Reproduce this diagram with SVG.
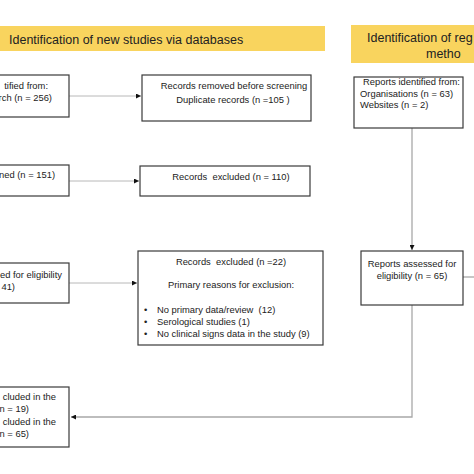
<svg xmlns="http://www.w3.org/2000/svg" width="474" height="474" viewBox="0 0 474 474">
<defs>
<style>
.hdr{fill:#F9D45E}
.ht{font-family:"Liberation Sans",Arial,sans-serif;font-size:12.5px;fill:#222}
.box{fill:#fff;stroke:#3a3a3a;stroke-width:1.2}
.t{font-family:"Liberation Sans",Arial,sans-serif;font-size:9.4px;fill:#222;white-space:pre}
.c{text-anchor:middle}
.e{text-anchor:end}
.ln{fill:none;stroke:#a8a8a8;stroke-width:1.3}
.thin{fill:none;stroke:#b0b0b0;stroke-width:0.9}
</style>
<marker id="ah" viewBox="0 0 6 6" refX="6" refY="3" markerWidth="5" markerHeight="5" orient="auto" markerUnits="userSpaceOnUse">
<path d="M0,0 L6,3 L0,6 z" fill="#111"/>
</marker>
</defs>
<rect width="474" height="474" fill="#fff"/>

<g id="header-databases">
<rect class="hdr" x="0" y="26" width="325" height="25"/>
<text class="ht" x="9" y="44">Identification of new studies via databases</text>
</g>
<g id="header-other">
<rect class="hdr" x="351" y="25" width="123" height="38"/>
<text class="ht" x="367" y="42">Identification of reg</text>
<text class="ht" x="426" y="58">metho</text>
</g>

<g id="connectors">
<line class="thin" x1="69" y1="96" x2="141" y2="96" marker-end="url(#ah)"/>
<line class="thin" x1="69" y1="181" x2="139" y2="181" marker-end="url(#ah)"/>
<line class="thin" x1="69" y1="283" x2="137" y2="283" marker-end="url(#ah)"/>
<line class="ln" x1="412" y1="128" x2="412" y2="250" marker-end="url(#ah)"/>
<line class="ln" x1="463" y1="277" x2="474" y2="277"/>
<polyline class="ln" points="412,305 412,417 71,417" marker-end="url(#ah)"/>
</g>

<g id="records-identified">
<rect class="box" x="-100" y="75" width="169" height="42"/>
<text class="t e" x="48" y="88.5">tified from:</text>
<text class="t e" x="52" y="100.5">rch (n = 256)</text>
</g>
<g id="records-removed">
<rect class="box" x="142" y="75" width="169" height="46"/>
<text class="t c" x="234" y="88.5">Records removed before screening</text>
<text class="t c" x="233" y="102.5">Duplicate records (n =105 )</text>
</g>
<g id="records-screened">
<rect class="box" x="-100" y="165" width="169" height="31"/>
<text class="t e" x="55" y="177.5">ned (n = 151)</text>
</g>
<g id="records-excluded-1">
<rect class="box" x="140" y="166" width="170" height="30"/>
<text class="t c" x="231" y="179.5">Records  excluded (n = 110)</text>
</g>
<g id="reports-assessed-db">
<rect class="box" x="-100" y="263" width="169" height="40"/>
<text class="t e" x="62" y="277.5">ed for eligibility</text>
<text class="t e" x="15" y="290">41)</text>
</g>
<g id="records-excluded-2">
<rect class="box" x="138" y="251" width="185" height="94"/>
<text class="t c" x="231" y="264.5">Records  excluded (n =22)</text>
<text class="t c" x="231" y="287.5">Primary reasons for exclusion:</text>
<text class="t" x="144" y="313">•</text>
<text class="t" x="157" y="313">No primary data/review  (12)</text>
<text class="t" x="144" y="325">•</text>
<text class="t" x="157" y="325">Serological studies (1)</text>
<text class="t" x="144" y="337">•</text>
<text class="t" x="157" y="337">No clinical signs data in the study (9)</text>
</g>
<g id="studies-included">
<rect class="box" x="-100" y="387" width="169" height="60"/>
<text class="t e" x="56" y="399.5">cluded in the</text>
<text class="t e" x="29" y="412">n = 19)</text>
<text class="t e" x="56" y="424.5">cluded in the</text>
<text class="t e" x="29" y="436.5">n = 65)</text>
</g>
<g id="reports-identified-other">
<rect class="box" x="354" y="77" width="109" height="51"/>
<text class="t" x="363" y="85">Reports identified from:</text>
<text class="t" x="360" y="96.5">Organisations (n = 63)</text>
<text class="t" x="360" y="108">Websites (n = 2)</text>
</g>
<g id="reports-assessed-other">
<rect class="box" x="361" y="251" width="102" height="54"/>
<text class="t c" x="412" y="266.5">Reports assessed for</text>
<text class="t c" x="412" y="278.5">eligibility (n = 65)</text>
</g>
</svg>
